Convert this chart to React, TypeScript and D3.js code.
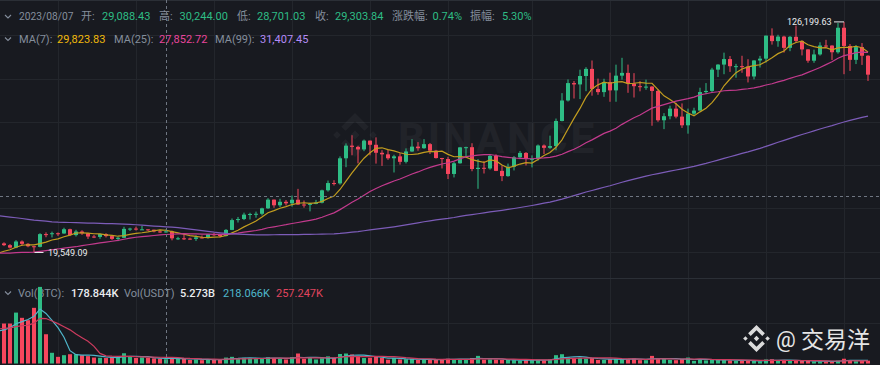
import React from "react";
import * as d3 from "d3";

// ---------- DATA (weekly BTC/USDT, week starting 2023-01-30) ----------
const firstOpen = 23743;
const highs = [
  24255, 23450, 25250, 25130, 23880, 22600, 28470, 28870, 29200, 28800,
  31000, 30550, 30036, 29800, 28630, 27660, 28260, 28450, 27350, 26800,
  31430, 31000, 31500, 31800, 30340, 30100, 30080, 30244, 29680, 26800,
  28140, 26400, 27480, 27440, 28000, 28580, 28000, 30380, 35280, 35980,
  37980, 37930, 38450, 40250, 44700, 44050, 44400, 43800, 45880, 48970,
  43580, 42550, 43880, 48600, 52820, 52980, 64000, 70000, 73777, 68920,
  71770, 71340, 72800, 66870, 67230, 64750, 65500, 67700, 71980, 70600,
  71990, 70200, 66990, 63300, 63800, 61420, 68370, 68480, 70080, 62750,
  61800, 65000, 64960, 59800, 60670, 64130, 66500, 66000, 64480, 69500,
  69500, 73600, 81500, 93265, 99588, 98870, 104088, 105250, 108353, 99963,
  99900, 102724, 106422, 109588, 106457, 102500, 98826, 99500, 96500, 95000,
  84000, 87450, 88765, 88500, 86100, 86500, 95760, 97900, 104970, 106660,
  111980, 110420, 106800, 110530, 108950, 108500, 110500, 119900, 123218, 120250,
  119800, 119700, 124474, 117600, 113600, 113380, 116780, 117900, 115400, 125700,
  126199.63, 115970, 115460, 116400, 110800,
];
const lows = [
  22500, 21350, 21530, 22750, 21970, 19549.09, 21920, 26600, 26500, 27200,
  28170, 27130, 26940, 27680, 25810, 26200, 25870, 26500, 25350, 24800,
  26260, 29500, 29700, 29950, 29500, 28860, 28580, 28701.03, 25170, 25350,
  25330, 25380, 24900, 26000, 25990, 27200, 26530, 26960, 29880, 33390,
  34530, 34800, 35630, 36700, 39700, 40220, 40540, 41300, 40750, 41500,
  40280, 38550, 41880, 42250, 47700, 50520, 50900, 59000, 64500, 60760,
  66400, 64500, 60660, 59600, 62400, 56550, 60190, 60750, 66060, 66620,
  67500, 65100, 63000, 58400, 53500, 54260, 60630, 63450, 57120, 49000,
  56080, 57860, 57200, 52550, 54580, 57500, 62700, 59800, 58900, 62060,
  65060, 67470, 66830, 80200, 89370, 90770, 90500, 94150, 92080, 92500,
  91530, 89256, 89260, 99500, 93400, 91230, 94090, 94800, 78170, 80000,
  76600, 81140, 81600, 77150, 74500, 83000, 85150, 92800, 93400, 100700,
  102000, 103070, 100370, 102660, 98200, 99600, 105100, 107400, 115700, 114700,
  112000, 112650, 116800, 110700, 107300, 107270, 110600, 114400, 108600, 111500,
  102000, 103530, 106700, 106300, 98900,
];
const closes = [
  22930, 21790, 24630, 23550, 22430, 22150, 28040, 27990, 28450, 28330,
  30300, 27590, 29230, 28430, 26920, 26750, 28070, 27120, 25840, 26340,
  30470, 30600, 30170, 30250, 30080, 29280, 29088.43, 29303.84, 26090, 26100,
  25970, 25840, 26530, 26250, 27990, 27920, 27160, 29990, 34530, 35010,
  37060, 37360, 37450, 39970, 43990, 41370, 42990, 42280, 43950, 41730,
  41580, 42030, 42580, 48300, 51660, 51500, 63110, 68960, 68390, 67210,
  71280, 69360, 65660, 64940, 63120, 64010, 61480, 66270, 68510, 67770,
  69650, 66650, 63220, 62770, 55860, 60800, 68160, 68250, 58160, 58720,
  58420, 64220, 57300, 54870, 59180, 63570, 65600, 62820, 62850, 69030,
  67950, 68770, 80370, 89850, 97900, 97280, 101170, 104460, 95190, 93720,
  98360, 94520, 101330, 102620, 97700, 96460, 96120, 96270, 94270, 80700,
  82580, 86080, 82390, 78370, 83760, 85180, 93750, 94280, 104120, 106450,
  109000, 105710, 105730, 105550, 100960, 108360, 109200, 119840, 117300, 119400,
  114200, 119300, 117400, 113480, 108250, 111150, 115270, 115250, 112160, 123500,
  115070, 108650, 114550, 110550, 101800,
];
// weekly volume, thousands of BTC
const volumesK = [
  1680, 1680, 2140, 1920, 1820, 2340, 3220, 1230, 450, 280,
  350, 390, 390, 350, 310, 250, 240, 230, 270, 250,
  430, 300, 232, 260, 230, 215, 206, 178.844, 250, 190,
  220, 150, 170, 140, 170, 160, 150, 250, 280, 220,
  240, 220, 190, 230, 260, 230, 200, 170, 270, 420,
  200, 230, 170, 220, 300, 230, 400, 420, 380, 320,
  230, 240, 280, 240, 160, 230, 170, 180, 200, 150,
  150, 170, 150, 180, 200, 190, 190, 150, 230, 320,
  160, 170, 160, 150, 150, 140, 120, 150, 150, 160,
  140, 170, 350, 390, 260, 230, 240, 200, 230, 150,
  150, 180, 200, 190, 180, 210, 140, 140, 320, 230,
  200, 150, 140, 190, 250, 110, 180, 130, 170, 150,
  160, 130, 110, 120, 120, 120, 90, 170, 180, 120,
  130, 110, 120, 110, 110, 90, 80, 90, 90, 120,
  200, 140, 100, 110, 120,
];
// history before the first visible week (for the moving averages)
const priorCloses = [
  59000, 57350, 55800, 58200, 59770, 56200, 49000, 56600, 58200, 46400,
  34700, 35600, 35800, 39100, 35500, 34700, 35300, 34250, 31800, 35400,
  39900, 43800, 47100, 49300, 48800, 51800, 46000, 47300, 43200, 48200,
  54900, 61500, 61000, 61300, 63300, 65500, 58600, 57200, 49400, 50100,
  46700, 50800, 47300,
  41900, 43100, 36300, 37900, 42400, 42200, 38400, 37700, 38400, 37800,
  41300, 46800, 46400, 42150, 39700, 39450, 38500, 34100, 31300, 30300,
  29450, 29900, 26600, 20550, 21000, 19300, 20850, 20800, 22600, 23300,
  23200, 24300, 21500, 19550, 19800, 21800, 19400, 18800, 19300, 19400,
  19250, 19600, 20600, 20900, 16300, 16300, 16450, 17100, 17100, 16750,
  16850, 16600,
  17100, 20900, 22700, 23743,
];
const priorVolumesK = [1400, 1500, 1600, 1550, 1650, 1450, 1200, 1300, 1500, 1370];

const firstWeek = Date.UTC(2023, 0, 30);
const crossWeek = 27;
const crossY = 196.5;

const ohlcLabels = ["开:", "高:", "低:", "收:", "涨跌幅:", "振幅:"];
const ohlcValues = ["29,088.43", "30,244.00", "28,701.03", "29,303.84", "0.74%", "5.30%"];
const maPeriods = [7, 25, 99];
const maValues = ["29,823.83", "27,852.72", "31,407.45"];
const volPeriods = [5, 10];
const volHeader = ["Vol(BTC):", "178.844K", "Vol(USDT)", "5.273B", "218.066K", "257.247K"];
const highText = "126,199.63";
const lowText = "19,549.09";
const priceTicks = [20000, 40000, 60000, 80000, 100000, 120000];

// ---------- STYLE ----------
const BG = "#181a20";
const GRID = "#23262c";
const UP = "#2ebd85";
const DOWN = "#f6465d";
const LABEL = "#848e9c";
const FONT = "Roboto, 'Noto Sans CJK SC', sans-serif";
const maLine = ["#c29d1f", "#c23a8d", "#7c5cb8"];
const maText = ["#f0b90b", "#e8459c", "#b48bf6"];
const volLine = ["#4fb6ca", "#cc3b5e"];
const volText = ["#eaecef", "#eaecef", "#4fb7cc", "#e0455f"];

function movingAvg(all: number[], offset: number, period: number, n: number) {
  const out: { i: number; v: number }[] = [];
  for (let i = -1; i < n; i++) {
    const g = offset + i;
    if (g - period + 1 < 0) continue;
    out.push({ i, v: d3.mean(all.slice(g - period + 1, g + 1)) as number });
  }
  return out;
}

function Chevron({ x, y }: { x: number; y: number }) {
  return (
    <path d={`M${x},${y - 2} L${x + 3},${y + 1} L${x + 6},${y - 2}`} fill="none" stroke={LABEL} strokeWidth={1.1} />
  );
}

function BinanceLogo({ cx, cy, s, fill, opacity }: { cx: number; cy: number; s: number; fill: string; opacity: number }) {
  const p = (pts: number[][]) => "M" + pts.map(([a, b]) => `${cx + a * s},${cy + b * s}`).join("L") + "Z";
  const dia = (ox: number, oy: number, r: number) => p([[ox, oy - r], [ox + r, oy], [ox, oy + r], [ox - r, oy]]);
  const top = p([[0, -1], [0.62, -0.38], [0.43, -0.19], [0, -0.62], [-0.43, -0.19], [-0.62, -0.38]]);
  const bot = p([[0, 1], [0.62, 0.38], [0.43, 0.19], [0, 0.62], [-0.43, 0.19], [-0.62, 0.38]]);
  return (
    <g fill={fill} opacity={opacity}>
      <path d={top} />
      <path d={bot} />
      <path d={dia(0, 0, 0.2)} />
      <path d={dia(-0.82, 0, 0.17)} />
      <path d={dia(0.82, 0, 0.17)} />
    </g>
  );
}

export default function App() {
  const W = 880;
  const H = 365;
  const n = closes.length;
  const opens = closes.map((c, i) => (i === 0 ? firstOpen : closes[i - 1]));

  const x = d3.scaleLinear().domain([0, n - 1]).range([4, 4 + 6 * (n - 1)]);
  const y = d3.scaleLinear().domain([20000, 120000]).range([251.5, 35.3]);
  const vy = d3.scaleLinear().domain([0, 3300]).range([363.5, 285]);
  const bw = 4;

  const allC = priorCloses.concat(closes);
  const allV = priorVolumesK.concat(volumesK);
  const priceMAs = maPeriods.map((p) => movingAvg(allC, priorCloses.length, p, n));
  const volMAs = volPeriods.map((p) => movingAvg(allV, priorVolumesK.length, p, n));

  const line = (ys: d3.ScaleLinear<number, number>) =>
    d3
      .line<{ i: number; v: number }>()
      .x((d) => x(d.i))
      .y((d) => ys(d.v));

  const weekDate = (i: number) => d3.utcMonday.offset(new Date(firstWeek), i);
  const quarterStarts = d3.range(1, n).filter((i) => {
    const m = weekDate(i).getUTCMonth();
    return m !== weekDate(i - 1).getUTCMonth() && m % 3 === 0;
  });
  const headerDate = d3.utcFormat("%Y/%m/%d")(weekDate(crossWeek));

  const hiIdx = d3.maxIndex(highs);
  const loIdx = d3.minIndex(lows);

  const ohlcLabelX = [81, 159, 237, 315, 392, 470];
  const ohlcValueX = [102, 179.5, 257, 335, 432.5, 502];
  const maLabelX = [19, 114, 215];
  const maValueX = [57, 159, 260];
  const volX = [18, 71, 124, 180, 223, 276];

  const snap = (v: number) => Math.round(v) + 0.5;

  return (
    <svg
      width={W}
      height={H}
      style={{ position: "absolute", left: 0, top: 0, display: "block" }}
      fontFamily={FONT}
    >
      <defs>
        <clipPath id="pricePane">
          <rect x={0} y={0} width={W} height={278} />
        </clipPath>
        <clipPath id="volPane">
          <rect x={0} y={279} width={W} height={H - 279} />
        </clipPath>
      </defs>
      <rect width={W} height={H} fill={BG} />

      {/* grid */}
      {priceTicks.map((t) => (
        <line key={t} x1={0} x2={W} y1={snap(y(t))} y2={snap(y(t))} stroke={GRID} strokeWidth={1} />
      ))}
      <line x1={0} x2={W} y1={snap(vy(1700))} y2={snap(vy(1700))} stroke={GRID} strokeWidth={1} />
      {quarterStarts.map((i) => (
        <line key={i} x1={snap(x(i))} x2={snap(x(i))} y1={0} y2={H} stroke={GRID} strokeWidth={1} />
      ))}
      <line x1={0} x2={W} y1={0.5} y2={0.5} stroke="#2b2f36" />
      <line x1={0} x2={W} y1={278.5} y2={278.5} stroke="#2b2f36" />

      {/* watermark */}
      <BinanceLogo cx={355} cy={135} s={22} fill="#ffffff" opacity={0.04} />
      <text x={398} y={153} fontSize={42} fontWeight={700} fill="#ffffff" opacity={0.04} letterSpacing={3}>
        BINANCE
      </text>

      {/* header rows */}
      <g fontSize={11}>
        <Chevron x={5} y={17} />
        <text x={19} y={20} fill={LABEL} textLength={54.5} lengthAdjust="spacingAndGlyphs">{headerDate}</text>
        {ohlcLabels.map((l, k) => (
          <text key={l} x={ohlcLabelX[k]} y={20} fill={LABEL}>{l}</text>
        ))}
        {ohlcValues.map((v, k) => (
          <text key={k} x={ohlcValueX[k]} y={20} fill={UP}>{v}</text>
        ))}
        <Chevron x={5} y={39.5} />
        {maPeriods.map((p, k) => (
          <g key={p}>
            <text x={maLabelX[k]} y={42.5} fill={LABEL}>{`MA(${p}):`}</text>
            <text x={maValueX[k]} y={42.5} fill={maText[k]}>{maValues[k]}</text>
          </g>
        ))}
        <Chevron x={5} y={293.5} />
        {volHeader.map((t, k) => (
          <text
            key={k}
            x={volX[k]}
            y={296.5}
            fill={k === 0 || k === 2 ? LABEL : volText[k - (k > 2 ? 2 : 1)]}
            fontWeight={k === 1 || k === 3 ? 500 : 400}
          >
            {t}
          </text>
        ))}
      </g>

      {/* volume */}
      <g clipPath="url(#volPane)">
        {volumesK.map((v, i) => (
          <rect
            key={i}
            x={x(i) - bw / 2}
            y={vy(v)}
            width={bw}
            height={vy(0) - vy(v)}
            fill={closes[i] >= opens[i] ? UP : DOWN}
          />
        ))}
        {volMAs.map((m, k) => (
          <path key={k} d={line(vy)(m) || ""} fill="none" stroke={volLine[k]} strokeWidth={1.2} />
        ))}
      </g>

      {/* candles */}
      <g clipPath="url(#pricePane)">
        {closes.map((c, i) => {
          const o = opens[i];
          const col = c >= o ? UP : DOWN;
          const top = Math.min(y(o), y(c));
          const h = Math.max(1, Math.abs(y(o) - y(c)));
          return (
            <g key={i} fill={col}>
              <rect x={x(i) - 0.5} y={y(highs[i])} width={1} height={y(lows[i]) - y(highs[i])} />
              <rect x={x(i) - bw / 2} y={top} width={bw} height={h} />
            </g>
          );
        })}
        {priceMAs.map((m, k) => (
          <path key={k} d={line(y)(m) || ""} fill="none" stroke={maLine[k]} strokeWidth={1.2} />
        ))}
      </g>

      {/* crosshair */}
      <line x1={snap(x(crossWeek))} x2={snap(x(crossWeek))} y1={0} y2={H} stroke="#6f7682" strokeDasharray="3 3" />
      <line x1={0} x2={W} y1={crossY} y2={crossY} stroke="#6f7682" strokeDasharray="3 3" />

      {/* high / low labels */}
      <g fontSize={9} fill="#eaecef">
        <line x1={x(hiIdx) - 10} x2={x(hiIdx)} y1={y(highs[hiIdx])} y2={y(highs[hiIdx])} stroke="#eaecef" />
        <text x={x(hiIdx) - 12.5} y={y(highs[hiIdx]) + 3.2} textAnchor="end">{highText}</text>
        <line x1={x(loIdx) + 0.5} x2={x(loIdx) + 9.5} y1={y(lows[loIdx])} y2={y(lows[loIdx])} stroke="#eaecef" />
        <text x={x(loIdx) + 14} y={y(lows[loIdx]) + 3.2}>{lowText}</text>
      </g>

      {/* share watermark */}
      <BinanceLogo cx={756.5} cy={338.5} s={13.5} fill="#e6e6e6" opacity={0.95} />
      <text x={776} y={346.5} fontSize={22} fill="#e6e6e6">@</text>
      <text x={801} y={348} fontSize={23} fill="#e6e6e6" fontFamily="'Noto Sans CJK SC', sans-serif">交易洋</text>
    </svg>
  );
}
